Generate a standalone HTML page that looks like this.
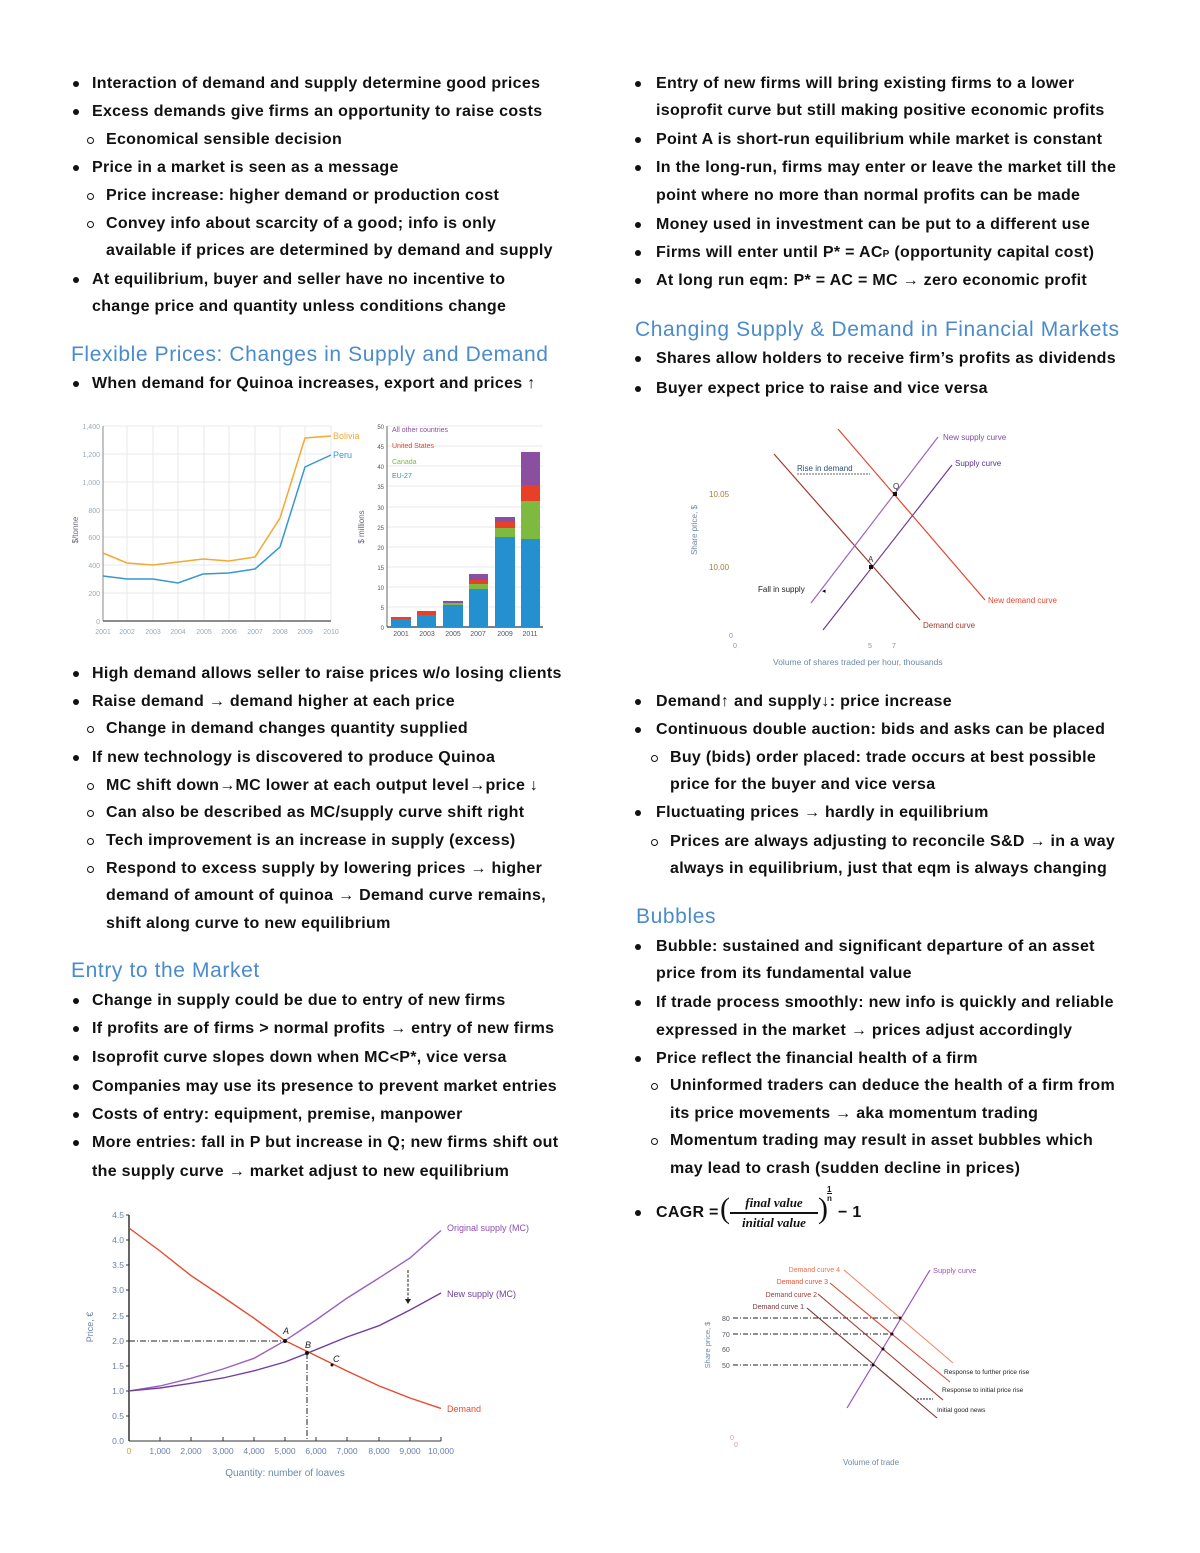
<!DOCTYPE html>
<html><head><meta charset="utf-8">
<style>
body{margin:0;background:#fff;}
#p{position:relative;width:1200px;height:1553px;overflow:hidden;font-family:"Liberation Sans",sans-serif;color:#111;}
.l{position:absolute;font-size:16px;font-weight:bold;letter-spacing:0.3px;line-height:20px;white-space:nowrap;}
.h{position:absolute;font-size:21px;color:#4a8bcb;line-height:24px;white-space:nowrap;letter-spacing:0.6px;}
.b{position:absolute;width:6px;height:6px;border-radius:50%;background:#111;}
.o{position:absolute;width:5px;height:5px;border-radius:50%;border:1.3px solid #111;}
svg{position:absolute;left:0;top:0;}
svg text{font-family:"Liberation Sans",sans-serif;}
</style></head><body><div id="p">

<!-- LEFT COLUMN -->
<div class="b" style="left:73px;top:81px"></div><div class="l" style="left:92px;top:74px">Interaction of demand and supply determine good prices</div>
<div class="b" style="left:73px;top:109px"></div><div class="l" style="left:92px;top:102px">Excess demands give firms an opportunity to raise costs</div>
<div class="o" style="left:87px;top:137px"></div><div class="l" style="left:106px;top:130px">Economical sensible decision</div>
<div class="b" style="left:73px;top:165px"></div><div class="l" style="left:92px;top:158px">Price in a market is seen as a message</div>
<div class="o" style="left:87px;top:193px"></div><div class="l" style="left:106px;top:186px">Price increase: higher demand or production cost</div>
<div class="o" style="left:87px;top:221px"></div><div class="l" style="left:106px;top:214px">Convey info about scarcity of a good; info is only</div>
<div class="l" style="left:106px;top:241px">available if prices are determined by demand and supply</div>
<div class="b" style="left:73px;top:277px"></div><div class="l" style="left:92px;top:270px">At equilibrium, buyer and seller have no incentive to</div>
<div class="l" style="left:92px;top:297px">change price and quantity unless conditions change</div>
<div class="h" style="left:71px;top:343px">Flexible Prices: Changes in Supply and Demand</div>
<div class="b" style="left:73px;top:381px"></div><div class="l" style="left:92px;top:374px">When demand for Quinoa increases, export and prices ↑</div>

<div class="b" style="left:73px;top:671px"></div><div class="l" style="left:92px;top:664px">High demand allows seller to raise prices w/o losing clients</div>
<div class="b" style="left:73px;top:699px"></div><div class="l" style="left:92px;top:692px">Raise demand → demand higher at each price</div>
<div class="o" style="left:87px;top:726px"></div><div class="l" style="left:106px;top:719px">Change in demand changes quantity supplied</div>
<div class="b" style="left:73px;top:755px"></div><div class="l" style="left:92px;top:748px">If new technology is discovered to produce Quinoa</div>
<div class="o" style="left:87px;top:783px"></div><div class="l" style="left:106px;top:776px">MC shift down→MC lower at each output level→price ↓</div>
<div class="o" style="left:87px;top:810px"></div><div class="l" style="left:106px;top:803px">Can also be described as MC/supply curve shift right</div>
<div class="o" style="left:87px;top:838px"></div><div class="l" style="left:106px;top:831px">Tech improvement is an increase in supply (excess)</div>
<div class="o" style="left:87px;top:866px"></div><div class="l" style="left:106px;top:859px">Respond to excess supply by lowering prices → higher</div>
<div class="l" style="left:106px;top:886px">demand of amount of quinoa → Demand curve remains,</div>
<div class="l" style="left:106px;top:914px">shift along curve to new equilibrium</div>
<div class="h" style="left:71px;top:959px">Entry to the Market</div>
<div class="b" style="left:73px;top:998px"></div><div class="l" style="left:92px;top:991px">Change in supply could be due to entry of new firms</div>
<div class="b" style="left:73px;top:1026px"></div><div class="l" style="left:92px;top:1019px">If profits are of firms &gt; normal profits → entry of new firms</div>
<div class="b" style="left:73px;top:1055px"></div><div class="l" style="left:92px;top:1048px">Isoprofit curve slopes down when MC&lt;P*, vice versa</div>
<div class="b" style="left:73px;top:1084px"></div><div class="l" style="left:92px;top:1077px">Companies may use its presence to prevent market entries</div>
<div class="b" style="left:73px;top:1112px"></div><div class="l" style="left:92px;top:1105px">Costs of entry: equipment, premise, manpower</div>
<div class="b" style="left:73px;top:1140px"></div><div class="l" style="left:92px;top:1133px">More entries: fall in P but increase in Q; new firms shift out</div>
<div class="l" style="left:92px;top:1162px">the supply curve → market adjust to new equilibrium</div>

<!-- RIGHT COLUMN -->
<div class="b" style="left:635px;top:81px"></div><div class="l" style="left:656px;top:74px">Entry of new firms will bring existing firms to a lower</div>
<div class="l" style="left:656px;top:101px">isoprofit curve but still making positive economic profits</div>
<div class="b" style="left:635px;top:137px"></div><div class="l" style="left:656px;top:130px">Point A is short-run equilibrium while market is constant</div>
<div class="b" style="left:635px;top:165px"></div><div class="l" style="left:656px;top:158px">In the long-run, firms may enter or leave the market till the</div>
<div class="l" style="left:656px;top:186px">point where no more than normal profits can be made</div>
<div class="b" style="left:635px;top:222px"></div><div class="l" style="left:656px;top:215px">Money used in investment can be put to a different use</div>
<div class="b" style="left:635px;top:250px"></div><div class="l" style="left:656px;top:243px">Firms will enter until P* = AC<span style="font-size:10px">P</span> (opportunity capital cost)</div>
<div class="b" style="left:635px;top:278px"></div><div class="l" style="left:656px;top:271px">At long run eqm: P* = AC = MC → zero economic profit</div>
<div class="h" style="left:635px;top:318px">Changing Supply &amp; Demand in Financial Markets</div>
<div class="b" style="left:635px;top:356px"></div><div class="l" style="left:656px;top:349px">Shares allow holders to receive firm’s profits as dividends</div>
<div class="b" style="left:635px;top:386px"></div><div class="l" style="left:656px;top:379px">Buyer expect price to raise and vice versa</div>

<div class="b" style="left:635px;top:699px"></div><div class="l" style="left:656px;top:692px">Demand↑ and supply↓: price increase</div>
<div class="b" style="left:635px;top:727px"></div><div class="l" style="left:656px;top:720px">Continuous double auction: bids and asks can be placed</div>
<div class="o" style="left:651px;top:755px"></div><div class="l" style="left:670px;top:748px">Buy (bids) order placed: trade occurs at best possible</div>
<div class="l" style="left:670px;top:775px">price for the buyer and vice versa</div>
<div class="b" style="left:635px;top:810px"></div><div class="l" style="left:656px;top:803px">Fluctuating prices → hardly in equilibrium</div>
<div class="o" style="left:651px;top:839px"></div><div class="l" style="left:670px;top:832px">Prices are always adjusting to reconcile S&amp;D → in a way</div>
<div class="l" style="left:670px;top:859px">always in equilibrium, just that eqm is always changing</div>
<div class="h" style="left:636px;top:905px">Bubbles</div>
<div class="b" style="left:635px;top:944px"></div><div class="l" style="left:656px;top:937px">Bubble: sustained and significant departure of an asset</div>
<div class="l" style="left:656px;top:964px">price from its fundamental value</div>
<div class="b" style="left:635px;top:1000px"></div><div class="l" style="left:656px;top:993px">If trade process smoothly: new info is quickly and reliable</div>
<div class="l" style="left:656px;top:1021px">expressed in the market → prices adjust accordingly</div>
<div class="b" style="left:635px;top:1056px"></div><div class="l" style="left:656px;top:1049px">Price reflect the financial health of a firm</div>
<div class="o" style="left:651px;top:1083px"></div><div class="l" style="left:670px;top:1076px">Uninformed traders can deduce the health of a firm from</div>
<div class="l" style="left:670px;top:1104px">its price movements → aka momentum trading</div>
<div class="o" style="left:651px;top:1138px"></div><div class="l" style="left:670px;top:1131px">Momentum trading may result in asset bubbles which</div>
<div class="l" style="left:670px;top:1159px">may lead to crash (sudden decline in prices)</div>
<div class="b" style="left:635px;top:1210px"></div>
<div class="l" style="left:656px;top:1203px">CAGR = </div>
<div style="position:absolute;left:720px;top:1192px;font-size:30px;font-weight:normal;line-height:34px;font-family:'Liberation Serif',serif">(</div>
<div style="position:absolute;left:730px;top:1196px;width:88px;text-align:center;font:italic bold 13px 'Liberation Serif',serif;line-height:14px">final value</div>
<div style="position:absolute;left:730px;top:1212px;width:88px;height:1.5px;background:#111"></div>
<div style="position:absolute;left:730px;top:1216px;width:88px;text-align:center;font:italic bold 13px 'Liberation Serif',serif;line-height:14px">initial value</div>
<div style="position:absolute;left:818px;top:1192px;font-size:30px;line-height:34px;font-family:'Liberation Serif',serif">)</div>
<div style="position:absolute;left:827px;top:1185px;font:bold 8px 'Liberation Sans';line-height:9px">1<br><span style="border-top:1px solid #111">n</span></div>
<div class="l" style="left:838px;top:1203px">− 1</div>

<svg width="1200" height="1553" viewBox="0 0 1200 1553">
<!-- Chart 1: line chart -->
<g stroke="#e8e8e8" stroke-width="1">
<line x1="103" y1="426" x2="331" y2="426"/><line x1="103" y1="454" x2="331" y2="454"/><line x1="103" y1="482" x2="331" y2="482"/><line x1="103" y1="510" x2="331" y2="510"/><line x1="103" y1="537" x2="331" y2="537"/><line x1="103" y1="565" x2="331" y2="565"/><line x1="103" y1="593" x2="331" y2="593"/>
<line x1="127" y1="426" x2="127" y2="621"/><line x1="153" y1="426" x2="153" y2="621"/><line x1="178" y1="426" x2="178" y2="621"/><line x1="204" y1="426" x2="204" y2="621"/><line x1="229" y1="426" x2="229" y2="621"/><line x1="255" y1="426" x2="255" y2="621"/><line x1="280" y1="426" x2="280" y2="621"/><line x1="305" y1="426" x2="305" y2="621"/><line x1="331" y1="426" x2="331" y2="621"/>
</g>
<line x1="103" y1="426" x2="103" y2="621" stroke="#888"/><line x1="103" y1="621" x2="331" y2="621" stroke="#666" stroke-width="1.5"/>
<polyline fill="none" stroke="#f5a833" stroke-width="1.5" points="103,553 127,563 153,565 178,562 203,559 229,561 255,557 280,518 305,438 331,436"/>
<polyline fill="none" stroke="#3597d6" stroke-width="1.5" points="103,576 127,579 153,579 178,583 203,574 229,573 255,569 280,547 305,467 331,455"/>
<text x="333" y="439" font-size="9" fill="#f5a833">Bolivia</text><text x="333" y="458" font-size="9" fill="#3597d6">Peru</text>
<g font-size="7" fill="#9ab" text-anchor="end"><text x="100" y="429">1,400</text><text x="100" y="457">1,200</text><text x="100" y="485">1,000</text><text x="100" y="513">800</text><text x="100" y="540">600</text><text x="100" y="568">400</text><text x="100" y="596">200</text><text x="100" y="624">0</text></g>
<g font-size="7" fill="#9ab" text-anchor="middle"><text x="103" y="634">2001</text><text x="127" y="634">2002</text><text x="153" y="634">2003</text><text x="178" y="634">2004</text><text x="204" y="634">2005</text><text x="229" y="634">2006</text><text x="255" y="634">2007</text><text x="280" y="634">2008</text><text x="305" y="634">2009</text><text x="331" y="634">2010</text></g>
<text x="78" y="530" font-size="8" fill="#667" transform="rotate(-90 78 530)" text-anchor="middle">$/tonne</text>

<!-- Chart 1b: bar chart -->
<g stroke="#e8e8e8"><line x1="387" y1="426" x2="543" y2="426"/><line x1="387" y1="446" x2="543" y2="446"/><line x1="387" y1="466" x2="543" y2="466"/><line x1="387" y1="486" x2="543" y2="486"/><line x1="387" y1="507" x2="543" y2="507"/><line x1="387" y1="527" x2="543" y2="527"/><line x1="387" y1="547" x2="543" y2="547"/><line x1="387" y1="567" x2="543" y2="567"/><line x1="387" y1="587" x2="543" y2="587"/><line x1="387" y1="607" x2="543" y2="607"/></g>
<line x1="387" y1="426" x2="387" y2="627" stroke="#666"/><line x1="387" y1="627" x2="543" y2="627" stroke="#555" stroke-width="1.5"/>
<g>
<rect x="391" y="619" width="20" height="8" fill="#2490d0"/><rect x="391" y="617" width="20" height="2" fill="#e84026"/>
<rect x="417" y="615" width="19" height="12" fill="#2490d0"/><rect x="417" y="611" width="19" height="4" fill="#e84026"/>
<rect x="443" y="605" width="20" height="22" fill="#2490d0"/><rect x="443" y="603" width="20" height="2" fill="#7dba3f"/><rect x="443" y="601" width="20" height="2" fill="#8a4fa0"/>
<rect x="469" y="589" width="19" height="38" fill="#2490d0"/><rect x="469" y="584" width="19" height="5" fill="#7dba3f"/><rect x="469" y="580" width="19" height="4" fill="#e84026"/><rect x="469" y="574" width="19" height="6" fill="#8a4fa0"/>
<rect x="495" y="537" width="20" height="90" fill="#2490d0"/><rect x="495" y="528" width="20" height="9" fill="#7dba3f"/><rect x="495" y="522" width="20" height="6" fill="#e84026"/><rect x="495" y="517" width="20" height="5" fill="#8a4fa0"/>
<rect x="521" y="539" width="19" height="88" fill="#2490d0"/><rect x="521" y="501" width="19" height="38" fill="#7dba3f"/><rect x="521" y="485" width="19" height="16" fill="#e84026"/><rect x="521" y="452" width="19" height="33" fill="#8a4fa0"/>
</g>
<g font-size="7"><text x="392" y="432" fill="#8a4fa0">All other countries</text><text x="392" y="448" fill="#e84026">United States</text><text x="392" y="464" fill="#7dba3f">Canada</text><text x="392" y="478" fill="#2490d0">EU-27</text></g>
<g font-size="6" fill="#556" text-anchor="end"><text x="384" y="429">50</text><text x="384" y="449">45</text><text x="384" y="469">40</text><text x="384" y="489">35</text><text x="384" y="510">30</text><text x="384" y="530">25</text><text x="384" y="550">20</text><text x="384" y="570">15</text><text x="384" y="590">10</text><text x="384" y="610">5</text><text x="384" y="630">0</text></g>
<g font-size="7" fill="#556" text-anchor="middle"><text x="401" y="636">2001</text><text x="427" y="636">2003</text><text x="453" y="636">2005</text><text x="478" y="636">2007</text><text x="505" y="636">2009</text><text x="530" y="636">2011</text></g>
<text x="364" y="527" font-size="8" fill="#667" transform="rotate(-90 364 527)" text-anchor="middle">$ millions</text>

<!-- Chart 2: share price -->
<line x1="774" y1="454" x2="920" y2="620" stroke="#a0392e" stroke-width="1.2"/>
<line x1="838" y1="429" x2="985" y2="600" stroke="#e8452e" stroke-width="1.2"/>
<line x1="823" y1="630" x2="952" y2="465" stroke="#6a3d9a" stroke-width="1.2"/>
<line x1="811" y1="603" x2="938" y2="437" stroke="#9b66c0" stroke-width="1.2"/>
<rect x="893" y="492" width="4" height="4" fill="#111"/><rect x="869" y="565" width="4" height="4" fill="#111"/>
<text x="893" y="489" font-size="8" fill="#333">Q</text><text x="868" y="562" font-size="8" fill="#333">A</text>
<text x="797" y="471" font-size="8" fill="#2e4b7a">Rise in demand</text>
<line x1="797" y1="474" x2="870" y2="474" stroke="#333" stroke-width="0.8" stroke-dasharray="2,1"/>
<text x="758" y="592" font-size="8" fill="#222">Fall in supply</text><text x="822" y="593" font-size="7">◂</text>
<g font-size="8"><text x="943" y="440" fill="#7b4aa5">New supply curve</text><text x="955" y="466" fill="#5a3290">Supply curve</text><text x="988" y="603" fill="#e8452e">New demand curve</text><text x="923" y="628" fill="#a0392e">Demand curve</text></g>
<g font-size="8" fill="#a07f3a"><text x="709" y="497">10.05</text><text x="709" y="570">10.00</text></g>
<text x="697" y="530" font-size="8" fill="#6a8aa8" transform="rotate(-90 697 530)" text-anchor="middle">Share price, $</text>
<g font-size="7" fill="#7a8fc0"><text x="729" y="638">0</text><text x="733" y="648">0</text><text x="868" y="648">5</text><text x="892" y="648">7</text></g>
<text x="773" y="665" font-size="8.5" fill="#6a8aa8">Volume of shares traded per hour, thousands</text>

<!-- Chart 3: bubbles -->
<g stroke="#222" stroke-width="0.9" stroke-dasharray="5,2,1,2"><line x1="733" y1="1318" x2="900" y2="1318"/><line x1="733" y1="1334" x2="892" y2="1334"/><line x1="733" y1="1365" x2="873" y2="1365"/></g>
<line x1="847" y1="1408" x2="930" y2="1270" stroke="#9b55c0" stroke-width="1.2"/>
<line x1="807" y1="1308" x2="937" y2="1418" stroke="#7b3030" stroke-width="1.1"/>
<line x1="818" y1="1294" x2="943" y2="1400" stroke="#a03a3a" stroke-width="1.1"/>
<line x1="830" y1="1283" x2="950" y2="1382" stroke="#e0482e" stroke-width="1.1"/>
<line x1="844" y1="1270" x2="953" y2="1363" stroke="#f08a6a" stroke-width="1.1"/>
<g fill="#111"><circle cx="900" cy="1318" r="1.5"/><circle cx="892" cy="1334" r="1.5"/><circle cx="883" cy="1349" r="1.5"/><circle cx="873" cy="1365" r="1.5"/></g>
<g font-size="7" text-anchor="end"><text x="840" y="1272" fill="#f07050">Demand curve 4</text><text x="828" y="1284" fill="#e8502e">Demand curve 3</text><text x="817" y="1297" fill="#a03a3a">Demand curve 2</text><text x="804" y="1309" fill="#7b3030">Demand curve 1</text></g>
<text x="933" y="1273" font-size="7.5" fill="#9b55c0">Supply curve</text>
<g font-size="6.5" fill="#222"><text x="944" y="1374">Response to further price rise</text><text x="942" y="1392">Response to initial price rise</text><text x="937" y="1412">Initial good news</text></g>
<line x1="917" y1="1399" x2="933" y2="1399" stroke="#222" stroke-dasharray="2,1"/>
<g font-size="7" fill="#556"><text x="722" y="1321">80</text><text x="722" y="1337">70</text><text x="722" y="1352">60</text><text x="722" y="1368">50</text></g>
<text x="710" y="1345" font-size="7.5" fill="#6a8aa8" transform="rotate(-90 710 1345)" text-anchor="middle">Share price, $</text>
<text x="730" y="1440" font-size="7" fill="#c9a">0</text><text x="734" y="1447" font-size="7" fill="#c9a">0</text>
<text x="843" y="1465" font-size="8" fill="#6a8aa8">Volume of trade</text>

<!-- Chart 4: loaves -->
<line x1="129" y1="1215" x2="129" y2="1441" stroke="#333" stroke-width="1.5"/>
<line x1="129" y1="1441" x2="441" y2="1441" stroke="#333" stroke-width="1"/>
<g stroke="#333"><line x1="160" y1="1441" x2="160" y2="1437"/><line x1="191" y1="1441" x2="191" y2="1437"/><line x1="223" y1="1441" x2="223" y2="1437"/><line x1="254" y1="1441" x2="254" y2="1437"/><line x1="285" y1="1441" x2="285" y2="1437"/><line x1="316" y1="1441" x2="316" y2="1437"/><line x1="347" y1="1441" x2="347" y2="1437"/><line x1="379" y1="1441" x2="379" y2="1437"/><line x1="410" y1="1441" x2="410" y2="1437"/><line x1="441" y1="1441" x2="441" y2="1437"/>
<line x1="126" y1="1215" x2="129" y2="1215"/><line x1="126" y1="1240" x2="129" y2="1240"/><line x1="126" y1="1265" x2="129" y2="1265"/><line x1="126" y1="1290" x2="129" y2="1290"/><line x1="126" y1="1316" x2="129" y2="1316"/><line x1="126" y1="1341" x2="129" y2="1341"/><line x1="126" y1="1366" x2="129" y2="1366"/><line x1="126" y1="1391" x2="129" y2="1391"/><line x1="126" y1="1416" x2="129" y2="1416"/></g>
<line x1="129" y1="1341" x2="285" y2="1341" stroke="#222" stroke-dasharray="6,2,1,2"/>
<line x1="307" y1="1353" x2="307" y2="1441" stroke="#222" stroke-dasharray="6,2,1,2"/>
<line x1="408" y1="1270" x2="408" y2="1300" stroke="#222" stroke-dasharray="3,1.5"/><polygon points="405,1299 411,1299 408,1304" fill="#222"/>
<polyline fill="none" stroke="#e84a2e" stroke-width="1.4" points="129,1228 160,1251 191,1275.6 223,1297 254,1318.2 285,1340.7 316,1355.8 347,1371 379,1385.9 410,1398 441,1408.4"/>
<polyline fill="none" stroke="#9b5fc0" stroke-width="1.4" points="129,1390.9 160,1386 191,1378.3 223,1369 254,1358.3 285,1340.7 316,1320 347,1298.1 379,1278 410,1258 441,1230.5"/>
<polyline fill="none" stroke="#7040a0" stroke-width="1.4" points="129,1390.9 160,1388 191,1383.3 223,1378 254,1370.8 285,1362 307,1353.3 347,1337 379,1325.7 410,1310 441,1293"/>
<g fill="#111"><circle cx="285" cy="1341" r="2"/><circle cx="307" cy="1353" r="2"/><circle cx="332" cy="1365" r="1.5"/></g>
<g font-size="9" font-style="italic" fill="#222"><text x="283" y="1334">A</text><text x="305" y="1348">B</text><text x="333" y="1362">C</text></g>
<g font-size="9"><text x="447" y="1231" fill="#8a4fb0">Original supply (MC)</text><text x="447" y="1297" fill="#7040a0">New supply (MC)</text><text x="447" y="1412" fill="#e84a2e">Demand</text></g>
<g font-size="8.5" fill="#6a7fb0" text-anchor="end"><text x="124" y="1218">4.5</text><text x="124" y="1243">4.0</text><text x="124" y="1268">3.5</text><text x="124" y="1293">3.0</text><text x="124" y="1319">2.5</text><text x="124" y="1344">2.0</text><text x="124" y="1369">1.5</text><text x="124" y="1394">1.0</text><text x="124" y="1419">0.5</text><text x="124" y="1444">0.0</text></g>
<g font-size="8.5" fill="#6a7fb0" text-anchor="middle"><text x="129" y="1454" fill="#e0a040">0</text><text x="160" y="1454">1,000</text><text x="191" y="1454">2,000</text><text x="223" y="1454">3,000</text><text x="254" y="1454">4,000</text><text x="285" y="1454">5,000</text><text x="316" y="1454">6,000</text><text x="347" y="1454">7,000</text><text x="379" y="1454">8,000</text><text x="410" y="1454">9,000</text><text x="441" y="1454">10,000</text></g>
<text x="93" y="1327" font-size="9" fill="#6a7fb0" transform="rotate(-90 93 1327)" text-anchor="middle">Price, €</text>
<text x="285" y="1476" font-size="10" fill="#6a8aa8" text-anchor="middle">Quantity: number of loaves</text>
</svg>
</div></body></html>
